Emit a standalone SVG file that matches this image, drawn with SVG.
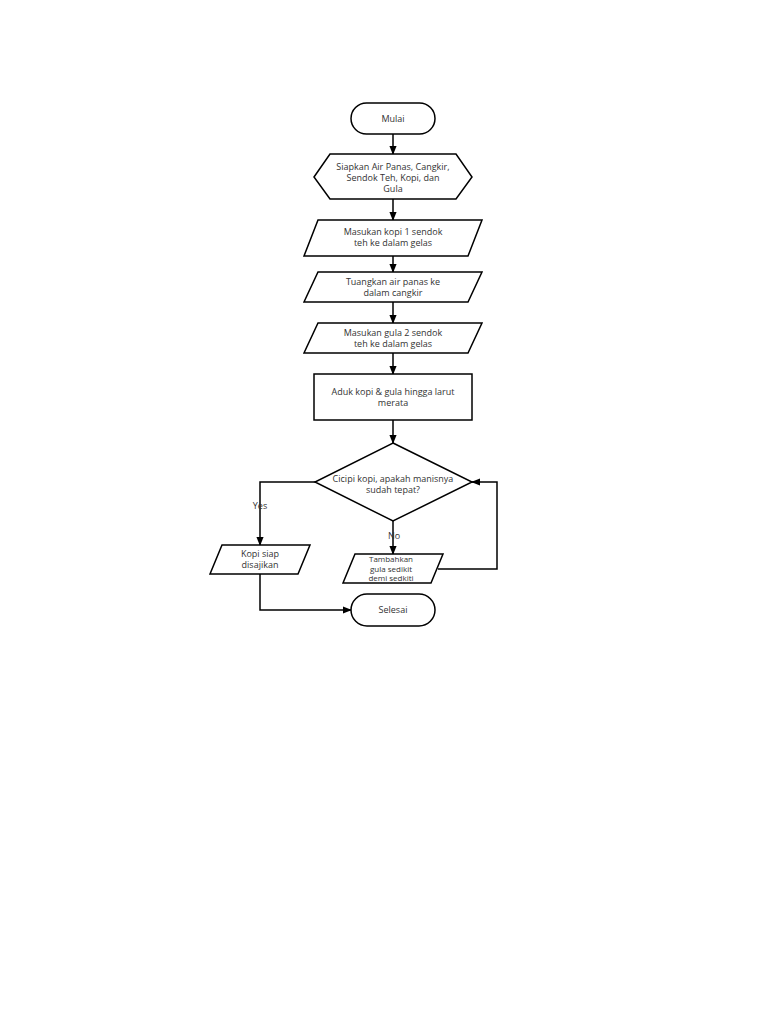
<svg xmlns="http://www.w3.org/2000/svg" width="768" height="1024" viewBox="0 0 768 1024">
<style>
.s{fill:#fff;stroke:#000;stroke-width:1.5}
.t{font-family:"Open Sans","DejaVu Sans",sans-serif;font-size:9px;fill:#333;text-anchor:middle}
.u{font-size:8px}
.c{fill:none;stroke:#000;stroke-width:1.5;marker-end:url(#a)}
</style>
<defs><marker id="a" viewBox="0 0 10 10" refX="9" refY="5" markerWidth="6" markerHeight="6" orient="auto"><path d="M0,1 L10,5 L0,9 z" fill="#000"/></marker></defs>
<rect width="768" height="1024" fill="#fff"/>
<g id="connectors">
<path class="c" d="M393,134 V154"/>
<path class="c" d="M393,199 V220"/>
<path class="c" d="M393,256 V272"/>
<path class="c" d="M393,302 V323"/>
<path class="c" d="M393,353 V374"/>
<path class="c" d="M393,420 V443"/>
<path class="c" d="M315,482 H260 V545"/>
<path class="c" d="M260,574 V610 H351"/>
<path class="c" d="M393,521 V554"/>
<path class="c" d="M438,569 H497 V482 H472"/>
<text class="t" x="260" y="509">Yes</text>
<text class="t" x="394" y="539">No</text>
</g>
<g id="mulai"><rect class="s" x="351" y="103" width="84" height="31" rx="15.5"/><text class="t" x="393" y="122">Mulai</text></g>
<g id="siapkan"><path class="s" d="M314,177 L330,154 H456 L472,177 L456,199 H330 Z"/><text class="t" x="393" y="170">Siapkan Air Panas, Cangkir,</text><text class="t" x="393" y="181">Sendok Teh, Kopi, dan</text><text class="t" x="393" y="192">Gula</text></g>
<g id="masukan1"><path class="s" d="M318,220 H482 L468,256 H304 Z"/><text class="t" x="393" y="235">Masukan kopi 1 sendok</text><text class="t" x="393" y="246">teh ke dalam gelas</text></g>
<g id="tuangkan"><path class="s" d="M318,272 H482 L468,302 H304 Z"/><text class="t" x="393" y="285">Tuangkan air panas ke</text><text class="t" x="393" y="296">dalam cangkir</text></g>
<g id="masukan2"><path class="s" d="M318,323 H482 L468,353 H304 Z"/><text class="t" x="393" y="336">Masukan gula 2 sendok</text><text class="t" x="393" y="347">teh ke dalam gelas</text></g>
<g id="aduk"><rect class="s" x="314" y="374" width="158" height="46"/><text class="t" x="393" y="395">Aduk kopi &amp; gula hingga larut</text><text class="t" x="393" y="406">merata</text></g>
<g id="cicipi"><path class="s" d="M393,443 L472,482 L393,521 L315,482 Z"/><text class="t" x="393" y="482">Cicipi kopi, apakah manisnya</text><text class="t" x="393" y="493">sudah tepat?</text></g>
<g id="kopi"><path class="s" d="M222,545 H310 L298,574 H210 Z"/><text class="t" x="260" y="557">Kopi siap</text><text class="t" x="260" y="568">disajikan</text></g>
<g id="tambahkan"><path class="s" d="M355,554 H443 L431,583 H343 Z"/><text class="t u" x="391" y="562">Tambahkan</text><text class="t u" x="391" y="571.5">gula sedikit</text><text class="t u" x="391" y="581">demi sedkiti</text></g>
<g id="selesai"><rect class="s" x="351" y="594" width="84" height="32" rx="16"/><text class="t" x="393" y="613">Selesai</text></g>
</svg>
